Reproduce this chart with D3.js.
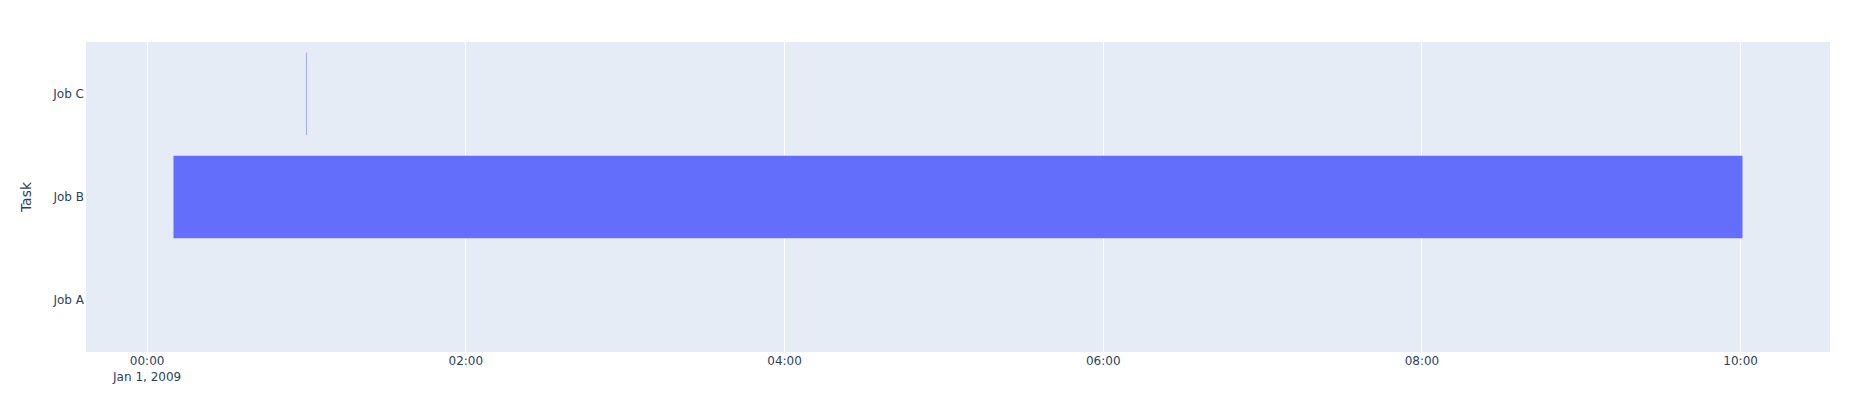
<!DOCTYPE html>
<html>
<head>
<meta charset="utf-8">
<script src="https://cdn.jsdelivr.net/npm/d3@7"></script>
<style>
    body { margin: 0; background: #fff; }
    text { font-family: "DejaVu Sans", Verdana, sans-serif; fill: #2a3f5f; }
</style>
</head>
<body>
<svg id="chart" width="1867" height="410"></svg>
<script>
'use strict';

// one row per job, drawn top to bottom in reverse order (plotly timeline style)
var tasks = ['Job A', 'Job B', 'Job C'],
    starts = ['2009-01-01 00:12:00', '2009-01-01 00:10:00', '2009-01-01 01:00:00'],
    finishes = ['2009-01-01 00:12:00', '2009-01-01 10:01:00', '2009-01-01 01:00:20'];

var tickEvery = 2; // hours

var width = 1867,
    height = 410,
    margin = {top: 42, right: 37, bottom: 58, left: 86},
    plotW = width - margin.left - margin.right,
    plotH = height - margin.top - margin.bottom;

var fontFamily = '"DejaVu Sans", Verdana, sans-serif';

var parse = d3.timeParse('%Y-%m-%d %H:%M:%S');

var rows = tasks.map(function(t, i) {
    return {task: t, start: parse(starts[i]), finish: parse(finishes[i])};
});

// autorange with 5% padding on each side, like plotly
var lo = d3.min(rows, function(d) { return +d.start; }),
    hi = d3.max(rows, function(d) { return +d.finish; }),
    pad = (hi - lo) * 0.05 / 0.9;

var x = d3.scaleTime()
    .domain([new Date(lo - pad), new Date(hi + pad)])
    .range([0, plotW]);

var y = d3.scaleBand()
    .domain(tasks.slice().reverse())
    .range([0, plotH])
    .paddingInner(0.2)
    .paddingOuter(0.1);

var svg = d3.select('#chart');

var g = svg.append('g')
    .attr('transform', 'translate(' + margin.left + ',' + margin.top + ')');

g.append('rect')
    .attr('width', plotW)
    .attr('height', plotH)
    .attr('fill', '#E5ECF6');

var ticks = x.ticks(d3.timeHour.every(tickEvery));

// vertical grid
g.append('g')
    .attr('class', 'grid')
    .selectAll('line')
    .data(ticks)
    .enter().append('line')
        .attr('x1', function(d) { return Math.round(x(d)) + 0.5; })
        .attr('x2', function(d) { return Math.round(x(d)) + 0.5; })
        .attr('y1', 0)
        .attr('y2', plotH)
        .attr('stroke', '#fff')
        .attr('stroke-width', 1);

// bars (zero-length jobs still get their thin outline)
g.append('g')
    .attr('class', 'bars')
    .selectAll('rect')
    .data(rows)
    .enter().append('rect')
        .attr('x', function(d) { return x(d.start); })
        .attr('y', function(d) { return y(d.task); })
        .attr('width', function(d) { return Math.max(0, x(d.finish) - x(d.start)); })
        .attr('height', y.bandwidth())
        .attr('fill', '#636efa')
        .attr('stroke', '#d6def3')
        .attr('stroke-width', 0.5);

// x axis labels
var fmtTime = d3.timeFormat('%H:%M'),
    fmtDay = d3.timeFormat('%b %-d, %Y');

var xAxis = g.append('g')
    .attr('transform', 'translate(0,' + plotH + ')')
    .call(d3.axisBottom(x).tickValues(ticks).tickFormat(fmtTime).tickSize(0).tickPadding(0));

xAxis.select('.domain').remove();
xAxis.selectAll('text')
    .attr('y', 13)
    .attr('dy', null)
    .style('font-size', '12px')
    .style('font-family', fontFamily)
    .attr('fill', '#2a3f5f');

xAxis.selectAll('.tick').filter(function(d, i) { return i === 0; })
    .select('text')
    .append('tspan')
        .attr('x', 0)
        .attr('dy', 16)
        .text(function(d) { return fmtDay(d); });

// y axis labels
var yAxis = g.append('g')
    .call(d3.axisLeft(y).tickSize(0).tickPadding(2));

yAxis.select('.domain').remove();
yAxis.selectAll('text')
    .style('font-size', '12px')
    .style('font-family', fontFamily)
    .attr('fill', '#2a3f5f');

svg.append('text')
    .attr('transform', 'translate(' + 31 + ',' + (margin.top + plotH / 2) + ') rotate(-90)')
    .attr('text-anchor', 'middle')
    .style('font-size', '14px')
    .text('Task');
</script>
</body>
</html>
